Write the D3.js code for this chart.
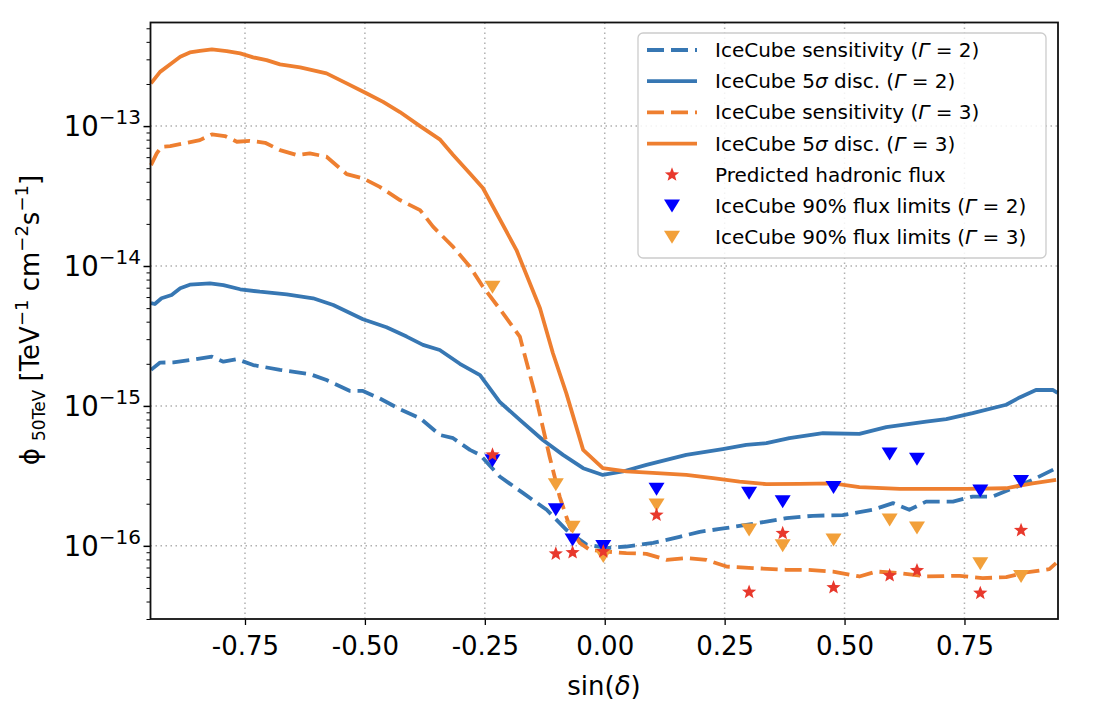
<!DOCTYPE html>
<html><head><meta charset="utf-8">
<script src="https://cdn.jsdelivr.net/npm/d3@7"></script>
<style>
html,body{margin:0;padding:0;background:#fff;}
svg text{font-family:"DejaVu Sans",sans-serif;fill:#000;}
</style></head>
<body><svg id="c" width="1100" height="720"></svg>
<script>
// ---- data ----
const sens2X = [-0.946,-0.927,-0.899,-0.865,-0.819,-0.795,-0.767,-0.733,-0.677,-0.615,-0.580,-0.531,-0.504,-0.469,-0.427,-0.385,-0.344,-0.316,-0.281,-0.260,-0.219,-0.170,-0.121,-0.080,-0.038,0.004,0.045,0.101,0.156,0.198,0.240,0.295,0.337,0.379,0.434,0.496,0.559,0.601,0.635,0.670,0.726,0.767,0.809,0.851,0.892,0.941];
const sens2Y = [1.81e-15,2.04e-15,2.05e-15,2.13e-15,2.25e-15,2.07e-15,2.16e-15,1.96e-15,1.81e-15,1.69e-15,1.53e-15,1.28e-15,1.28e-15,1.13e-15,9.47e-16,8.17e-16,6.21e-16,5.88e-16,4.85e-16,4.47e-16,3.13e-16,2.38e-16,1.81e-16,1.30e-16,1.02e-16,9.64e-17,9.89e-17,1.05e-16,1.16e-16,1.26e-16,1.32e-16,1.41e-16,1.49e-16,1.58e-16,1.64e-16,1.66e-16,1.81e-16,2.02e-16,1.81e-16,2.07e-16,2.07e-16,2.25e-16,2.25e-16,2.58e-16,2.96e-16,3.59e-16];

const disc2X = [-0.946,-0.938,-0.924,-0.903,-0.885,-0.865,-0.823,-0.795,-0.760,-0.719,-0.663,-0.608,-0.566,-0.504,-0.455,-0.413,-0.379,-0.344,-0.302,-0.260,-0.219,-0.177,-0.129,-0.087,-0.045,-0.004,0.038,0.087,0.170,0.246,0.295,0.337,0.385,0.455,0.531,0.587,0.670,0.712,0.767,0.837,0.865,0.899,0.934,0.944];
const disc2Y = [5.42e-15,5.35e-15,5.88e-15,6.21e-15,6.93e-15,7.35e-15,7.52e-15,7.31e-15,6.82e-15,6.55e-15,6.28e-15,5.88e-15,5.26e-15,4.16e-15,3.65e-15,3.13e-15,2.73e-15,2.51e-15,2.0e-15,1.66e-15,1.07e-15,7.94e-16,5.71e-16,4.47e-16,3.59e-16,3.21e-16,3.40e-16,3.79e-16,4.47e-16,4.91e-16,5.26e-16,5.42e-16,5.88e-16,6.38e-16,6.31e-16,7.05e-16,7.73e-16,8.04e-16,8.87e-16,1.02e-15,1.15e-15,1.30e-15,1.30e-15,1.24e-15];

const sens3X = [-0.946,-0.934,-0.924,-0.906,-0.871,-0.844,-0.819,-0.792,-0.767,-0.740,-0.708,-0.677,-0.642,-0.615,-0.580,-0.538,-0.504,-0.469,-0.427,-0.385,-0.358,-0.316,-0.281,-0.254,-0.212,-0.177,-0.142,-0.115,-0.094,-0.073,-0.052,-0.031,0.004,0.045,0.087,0.129,0.170,0.212,0.254,0.309,0.379,0.420,0.476,0.531,0.566,0.615,0.670,0.740,0.788,0.837,0.879,0.927,0.941];
const sens3Y = [5.26e-14,6.38e-14,7.11e-14,7.20e-14,7.60e-14,7.94e-14,8.73e-14,8.49e-14,7.73e-14,7.85e-14,7.60e-14,6.74e-14,6.21e-14,6.38e-14,6.04e-14,4.54e-14,4.23e-14,3.68e-14,2.96e-14,2.51e-14,1.91e-14,1.37e-14,9.89e-15,7.11e-15,4.59e-15,3.13e-15,1.10e-15,4.35e-16,2.25e-16,1.37e-16,1.05e-16,9.36e-17,9.1e-17,8.87e-17,8.77e-17,7.94e-17,8.17e-17,7.94e-17,7.11e-17,6.93e-17,6.74e-17,6.74e-17,6.55e-17,6.04e-17,6.55e-17,6.38e-17,6.04e-17,6.11e-17,5.88e-17,5.97e-17,6.45e-17,6.82e-17,7.52e-17];

const disc3X = [-0.946,-0.927,-0.903,-0.885,-0.865,-0.844,-0.819,-0.788,-0.760,-0.733,-0.705,-0.677,-0.635,-0.580,-0.538,-0.496,-0.462,-0.427,-0.385,-0.344,-0.316,-0.281,-0.254,-0.184,-0.135,-0.108,-0.080,-0.045,-0.004,0.045,0.100,0.170,0.226,0.281,0.337,0.406,0.476,0.531,0.615,0.684,0.754,0.837,0.892,0.941];
const disc3Y = [2.02e-13,2.44e-13,2.81e-13,3.13e-13,3.36e-13,3.45e-13,3.53e-13,3.44e-13,3.31e-13,3.10e-13,2.96e-13,2.76e-13,2.63e-13,2.38e-13,2.02e-13,1.71e-13,1.49e-13,1.26e-13,1.0e-13,8.04e-14,6.21e-14,4.59e-14,3.61e-14,1.30e-14,4.99e-15,2.38e-15,1.23e-15,4.85e-16,3.59e-16,3.40e-16,3.32e-16,3.21e-16,3.05e-16,2.88e-16,2.76e-16,2.77e-16,2.80e-16,2.63e-16,2.55e-16,2.55e-16,2.55e-16,2.58e-16,2.80e-16,2.96e-16];

const srcX   = [-0.234,-0.102,-0.067,-0.003,0.108,0.301,0.371,0.477,0.594,0.651,0.783,0.868];
const hadronic = [4.47e-16,8.77e-17,8.96e-17,9.1e-17,1.66e-16,4.67e-17,1.23e-16,5.04e-17,6.14e-17,6.67e-17,4.59e-17,1.29e-16];
const lim2   = [4.05e-16,1.81e-16,1.10e-16,9.9e-17,2.54e-16,2.38e-16,2.07e-16,2.61e-16,4.54e-16,4.16e-16,2.47e-16,2.88e-16];
const lim3   = [7.05e-15,2.73e-16,1.36e-16,8.39e-17,1.96e-16,1.30e-16,1.0e-16,1.10e-16,1.53e-16,1.34e-16,7.44e-17,6.04e-17];

const xTicks = [-0.75,-0.50,-0.25,0.00,0.25,0.50,0.75];
const xTickLabels = ["-0.75","-0.50","-0.25","0.00","0.25","0.50","0.75"];
const yTickExp = [-16,-15,-14,-13];

// ---- layout ----
const L = 150.5, R = 1058, T = 22.5, B = 619;
const BLUE = "#3777b3", ORANGE = "#ee7f30", TRI_BLUE = "#0000ff", TRI_OR = "#f2a03a", STAR = "#e8382c";
const DASH = "17,7";

const svg = d3.select("#c");
const x = d3.scaleLinear().domain([-0.947, 0.945]).range([L, R]);
const y = d3.scaleLog().domain([3.0e-17, 5.5e-13]).range([B, T]);

// grid
const grid = svg.append("g").attr("stroke", "#b0b0b0").attr("stroke-width", 1.5).attr("stroke-dasharray", "1.5,3.5");
xTicks.forEach(t => grid.append("line").attr("x1", x(t)).attr("x2", x(t)).attr("y1", T).attr("y2", B));
yTickExp.forEach(e => grid.append("line").attr("x1", L).attr("x2", R).attr("y1", y(Math.pow(10, e))).attr("y2", y(Math.pow(10, e))));

// axes via d3
const xAxis = d3.axisBottom(x).tickValues(xTicks).tickSize(6).tickFormat((d, i) => xTickLabels[i]);
const gx = svg.append("g").attr("transform", `translate(0,${B})`).call(xAxis);
gx.select(".domain").remove();
gx.selectAll(".tick line").attr("stroke", "#000").attr("stroke-width", 1.3);
gx.selectAll(".tick text").attr("font-size", 26).attr("dy", "1.05em").attr("font-family", "DejaVu Sans");

const minorVals = [];
for (let e = -17; e <= -13; e++) for (let k = 1; k <= 9; k++) {
  const v = k * Math.pow(10, e);
  if (v >= 3.0e-17 && v <= 5.5e-13) minorVals.push(v);
}
const isMajor = d => Math.abs(Math.log10(d) - Math.round(Math.log10(d))) < 1e-6;
const yAxis = d3.axisLeft(y).tickValues(minorVals).tickSize(4).tickFormat("");
const gy = svg.append("g").attr("transform", `translate(${L},0)`).call(yAxis);
gy.select(".domain").remove();
gy.selectAll(".tick line").attr("stroke", "#000")
  .attr("x2", d => isMajor(d) ? -7 : -4)
  .attr("stroke-width", d => isMajor(d) ? 1.5 : 1);

// y tick labels
yTickExp.forEach(e => {
  const t = svg.append("text").attr("x", 141).attr("y", y(Math.pow(10, e)) + 10).attr("text-anchor", "end");
  t.append("tspan").attr("font-size", 27.5).text("10");
  t.append("tspan").attr("font-size", 20).attr("dy", -12).text("\u2212" + Math.abs(e));
});

// lines
const line = (xs, ys) => d3.line().x((d, i) => x(xs[i])).y((d, i) => y(ys[i]))(ys);
const lg = svg.append("g").attr("fill", "none").attr("stroke-width", 3.8).attr("stroke-linejoin", "round");
lg.append("path").attr("d", line(sens2X, sens2Y)).attr("stroke", BLUE).attr("stroke-dasharray", DASH);
lg.append("path").attr("d", line(disc2X, disc2Y)).attr("stroke", BLUE);
lg.append("path").attr("d", line(sens3X, sens3Y)).attr("stroke", ORANGE).attr("stroke-dasharray", DASH);
lg.append("path").attr("d", line(disc3X, disc3Y)).attr("stroke", ORANGE);

// markers
const triPath = "M-8,-6.5L8,-6.5L0,6.5Z";
function starPath(ro, ri) {
  let p = "";
  for (let i = 0; i < 10; i++) {
    const r = i % 2 ? ri : ro, a = -Math.PI / 2 + i * Math.PI / 5;
    p += (i ? "L" : "M") + (r * Math.cos(a)).toFixed(2) + "," + (r * Math.sin(a)).toFixed(2);
  }
  return p + "Z";
}
const star = starPath(7.5, 3.2);
const mg = svg.append("g");
srcX.forEach((sx, i) => mg.append("path").attr("d", triPath).attr("fill", TRI_BLUE).attr("transform", `translate(${x(sx)},${y(lim2[i])})`));
srcX.forEach((sx, i) => mg.append("path").attr("d", triPath).attr("fill", TRI_OR).attr("transform", `translate(${x(sx)},${y(lim3[i])})`));
srcX.forEach((sx, i) => mg.append("path").attr("d", star).attr("fill", STAR).attr("transform", `translate(${x(sx)},${y(hadronic[i])})`));

// frame
svg.append("rect").attr("x", L).attr("y", T).attr("width", R - L).attr("height", B - T)
  .attr("fill", "none").attr("stroke", "#111").attr("stroke-width", 1.8);

// axis labels
const xl = svg.append("text").attr("x", 604).attr("y", 695).attr("text-anchor", "middle").attr("font-size", 26);
xl.append("tspan").text("sin(");
xl.append("tspan").attr("font-style", "italic").text("\u03B4");
xl.append("tspan").text(")");

const yl = svg.append("text").attr("transform", "translate(39,320) rotate(-90)").attr("text-anchor", "middle").attr("font-size", 26);
yl.append("tspan").text("\u03D5");
yl.append("tspan").attr("font-size", 17).attr("dx", 7).attr("dy", 6).text("50TeV");
yl.append("tspan").attr("dy", -6).text(" [TeV");
yl.append("tspan").attr("font-size", 18).attr("dy", -11).text("\u22121");
yl.append("tspan").attr("dy", 11).text(" cm");
yl.append("tspan").attr("font-size", 18).attr("dy", -11).text("\u22122");
yl.append("tspan").attr("dy", 11).text("s");
yl.append("tspan").attr("font-size", 18).attr("dy", -11).text("\u22121");
yl.append("tspan").attr("dy", 11).text("]");

// legend
const leg = svg.append("g");
leg.append("rect").attr("x", 638).attr("y", 33).attr("width", 408).attr("height", 225).attr("rx", 5)
  .attr("fill", "#fff").attr("fill-opacity", 0.85).attr("stroke", "#cccccc").attr("stroke-width", 1.3);
const legItems = [
  {type: "line", color: BLUE, dash: DASH, pre: "IceCube sensitivity (", g: "2"},
  {type: "line", color: BLUE, dash: null, pre: "IceCube 5", sigma: true, g: "2"},
  {type: "line", color: ORANGE, dash: DASH, pre: "IceCube sensitivity (", g: "3"},
  {type: "line", color: ORANGE, dash: null, pre: "IceCube 5", sigma: true, g: "3"},
  {type: "star", color: STAR, plain: "Predicted hadronic flux"},
  {type: "tri", color: TRI_BLUE, pre: "IceCube 90% flux limits (", g: "2"},
  {type: "tri", color: TRI_OR, pre: "IceCube 90% flux limits (", g: "3"}
];
legItems.forEach((it, i) => {
  const cy = 50 + i * 31.2;
  if (it.type === "line") {
    leg.append("line").attr("x1", 647).attr("x2", 697).attr("y1", cy).attr("y2", cy)
      .attr("stroke", it.color).attr("stroke-width", 3.8).attr("stroke-dasharray", it.dash);
  } else if (it.type === "star") {
    leg.append("path").attr("d", star).attr("fill", it.color).attr("transform", `translate(672,${cy})`);
  } else {
    leg.append("path").attr("d", triPath).attr("fill", it.color).attr("transform", `translate(672,${cy})`);
  }
  const t = leg.append("text").attr("x", 715).attr("y", cy + 7).attr("font-size", 20);
  if (it.plain) { t.text(it.plain); return; }
  t.append("tspan").text(it.pre);
  if (it.sigma) {
    t.append("tspan").attr("font-style", "italic").text("\u03C3");
    t.append("tspan").text(" disc. (");
  }
  t.append("tspan").attr("font-style", "italic").text("\u0393");
  t.append("tspan").text(" = " + it.g + ")");
});
</script></body></html>
